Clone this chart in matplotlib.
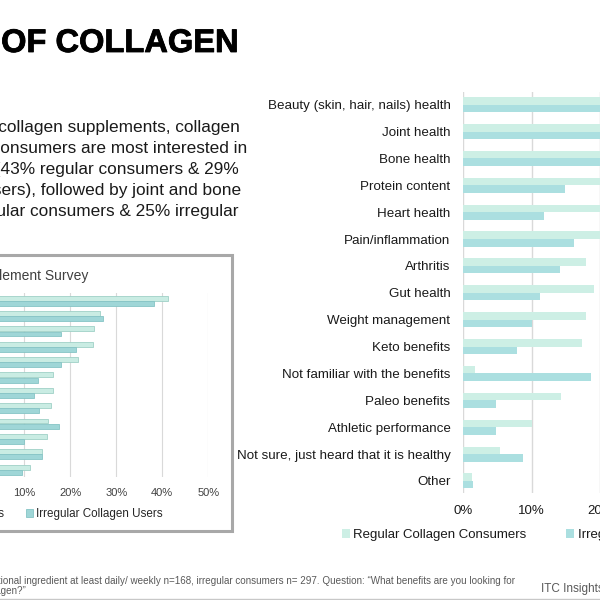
import numpy as np
import matplotlib
matplotlib.use('Agg')
import matplotlib.pyplot as plt
import matplotlib.patheffects as pe
from matplotlib.patches import Rectangle
from matplotlib.lines import Line2D

plt.rcParams['font.family'] = ['Liberation Sans', 'DejaVu Sans']

# right chart: benefits sought, % of respondents
benefits = ['Beauty (skin, hair, nails) health', 'Joint health', 'Bone health',
            'Protein content', 'Heart health', 'Pain/inflammation', 'Arthritis',
            'Gut health', 'Weight management', 'Keto benefits',
            'Not familiar with the benefits', 'Paleo benefits', 'Athletic performance',
            'Not sure, just heard that it is healthy', 'Other']
regular = [43, 36, 33, 26, 23, 21, 17.9, 19.0, 17.9, 17.3, 1.8, 14.3, 10.0, 5.4, 1.3]
irregular = [29, 25, 25, 14.8, 11.8, 16.1, 14.1, 11.2, 10.0, 7.8, 18.6, 4.8, 4.8, 8.8, 1.4]
right_ticks = [0, 10, 20, 30, 40, 50]

# left inset chart (supplement survey)
survey_regular = [41.2, 26.5, 25.2, 24.9, 21.6, 16.2, 16.2, 15.9, 15.2, 14.9, 13.8, 11.2]
survey_irregular = [38.2, 27.0, 18.0, 21.3, 18.0, 13.0, 12.1, 13.2, 17.5, 9.9, 13.8, 9.5]
left_ticks = [0, 10, 20, 30, 40, 50]

C_REG = '#cdefe5'
C_IRR = '#abdfe0'

W = H = 600.0
def fx(px):
    return px / W
def fy(py):
    return 1 - py / H

fig = plt.figure(figsize=(6, 6), dpi=100)
fig.patch.set_facecolor('white')

# title + body text
fig.text(fx(238), fy(52), 'BENEFITS OF COLLAGEN', ha='right', va='baseline',
         fontsize=23.5, fontweight='bold', color='black',
         path_effects=[pe.withStroke(linewidth=0.6, foreground='black')])
body = ['When it comes to collagen supplements, collagen',
        'regular consumers are most interested in',
        'beauty (43% regular consumers & 29%',
        'irregular users), followed by joint and bone',
        'health (36% regular consumers & 25% irregular']
ends = [240, 247, 239, 241, 238]
for i, line in enumerate(body):
    fig.text(fx(ends[i]), fy(132 + 21 * i), line, ha='right', va='baseline',
             fontsize=12.4, color='#1a1a1a')

# inset box
box = Rectangle((fx(-20), fy(531)), fx(252), (531 - 255) / H, transform=fig.transFigure,
                facecolor='white', edgecolor='#a8a8a8', lw=2.2, zorder=-1)
fig.patches.append(box)
fig.text(fx(88), fy(280), 'Collagen Supplement Survey', ha='right', va='baseline',
         fontsize=10, color='#404040')

# left chart
axl = fig.add_axes([fx(-21.7), fy(477), 230 / W, 184 / H])
axl.set_zorder(2)
y = np.arange(len(survey_regular))
axl.barh(y - 0.17, survey_regular, height=0.32, color='#c9ece3', edgecolor='#9fd0c7', lw=0.6,
         label='Regular Collagen Users', zorder=3)
axl.barh(y + 0.17, survey_irregular, height=0.32, color='#9fd6d7', edgecolor='#86c4c5', lw=0.6,
         label='Irregular Collagen Users', zorder=3)
axl.set_xlim(0, 50)
axl.set_ylim(11.475, -0.5)
axl.set_xticks(left_ticks)
axl.set_xticklabels(['%d%%' % t for t in left_ticks], fontsize=8, color='#404040')
axl.set_yticks([])
axl.tick_params(axis='x', length=0, pad=8)
axl.grid(axis='x', color='#d9d9d9', lw=0.8, zorder=0)
for s in axl.spines.values():
    s.set_visible(False)
axl.patch.set_alpha(0)
axl.legend(loc='center right', bbox_to_anchor=(fx(168), fy(514)), bbox_transform=fig.transFigure,
           ncol=2, frameon=False, fontsize=8.4, handlelength=0.6, handleheight=0.6,
           handletextpad=0.2, columnspacing=1.9, borderpad=0, labelcolor='#262626')

# right chart
axr = fig.add_axes([fx(463), fy(493), 343.5 / W, 401 / H])
y = np.arange(len(benefits))
axr.barh(y - 0.14, regular, height=0.28, color=C_REG, label='Regular Collagen Consumers', zorder=3)
axr.barh(y + 0.14, irregular, height=0.28, color=C_IRR, label='Irregular Collagen Consumers', zorder=3)
axr.set_xlim(0, 50)
axr.set_ylim(14.45, -0.47)
axr.set_yticks(y)
axr.set_yticklabels(benefits, fontsize=9.6, color='#1a1a1a')
axr.set_xticks(right_ticks)
axr.set_xticklabels(['%d%%' % t for t in right_ticks], fontsize=9.5, color='#1a1a1a')
axr.tick_params(axis='both', length=0)
axr.tick_params(axis='y', pad=9)
axr.tick_params(axis='x', pad=9)
axr.grid(axis='x', color='#d9d9d9', lw=1, zorder=0)
for s in axr.spines.values():
    s.set_visible(False)
axr.legend(loc='center left', bbox_to_anchor=(fx(335), fy(535)), bbox_transform=fig.transFigure,
           ncol=2, frameon=False, fontsize=9.5, handlelength=0.6, handleheight=0.6,
           handletextpad=0.3, columnspacing=3.0, borderpad=0, labelcolor='#1a1a1a')

# footer
fig.text(fx(515), fy(584), 'Note: Regular consumers = consuming collagen as a supplement or functional '
         'ingredient at least daily/ weekly n=168, irregular consumers n= 297. Question: '
         '\u201cWhat benefits are you looking for', ha='right', va='baseline',
         fontsize=7.1, color='#595959')
fig.text(fx(26), fy(594.5), 'in collagen?\u201d', ha='right', va='baseline',
         fontsize=7.1, color='#595959')
fig.text(fx(541), fy(592), 'ITC Insights', ha='left', va='baseline', fontsize=8.5, color='#595959')
fig.add_artist(Line2D([0, 1], [fy(599.3), fy(599.3)], transform=fig.transFigure,
                      color='#c8c8c8', lw=1))

fig.savefig('out.png', dpi=100)
